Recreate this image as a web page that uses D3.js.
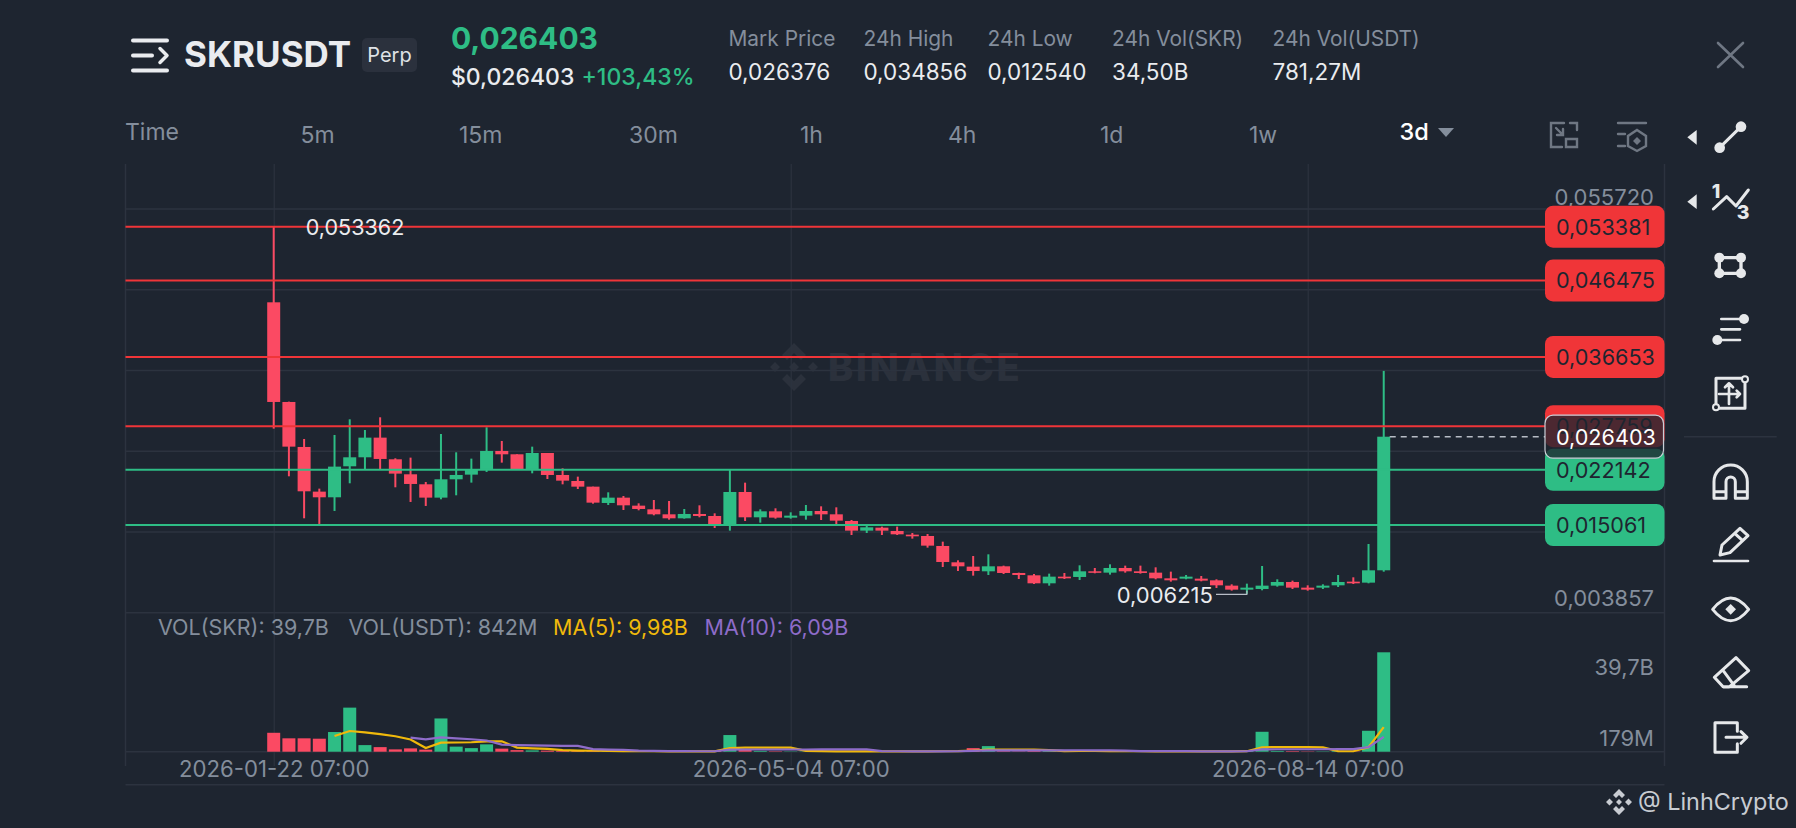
<!DOCTYPE html>
<html><head><meta charset="utf-8">
<script src="https://cdn.jsdelivr.net/npm/d3@7"></script>
<style>
html,body{margin:0;padding:0;background:#1e2530;overflow:hidden}
svg{display:block}
text{font-family:Inter,"Noto Sans",sans-serif}
</style></head><body>
<svg id="c" width="1796" height="828"></svg>
<script>
// ---- data ----
const firstDate = "2026-01-22T07:00:00Z";
const opens = [.043668,.030865,.025084,.019346,.018619,.022601,.023757,.026283,.0235,.021573,.020289,.018576,.020931,.02153,.02213,.024571,.024142,.022127,.024311,.021485,.020714,.019986,.017888,.018573,.017545,.017074,.016432,.015918,.016475,.016218,.015019,.019301,.016047,.016817,.016004,.016261,.01686,.016432,.015576,.014334,.014719,.014291,.01382,.013648,.012364,.010266,.009709,.00911,.009752,.008895,.008596,.007568,.008424,.008382,.00911,.008938,.009538,.00911,.008938,.00821,.008167,.008167,.007953,.007268,.006754,.00684,.007268,.007739,.007011,.007011,.007311,.007782,.007654,.009241];
const highs = [.053362,.030908,.026112,.019732,.026626,.028638,.027268,.028895,.023628,.023714,.020588,.026754,.024399,.023586,.027611,.025855,.024142,.025124,.024311,.022341,.021271,.019986,.019258,.018787,.017845,.018273,.018145,.017117,.017588,.01656,.022127,.0205,.017074,.017203,.016689,.017631,.01746,.017331,.015704,.015019,.014848,.014848,.014034,.013905,.01292,.010523,.011079,.011293,.009837,.008938,.008767,.00881,.008895,.00988,.009538,.010009,.009837,.009837,.009623,.009067,.008638,.00851,.008082,.00744,.007525,.009795,.008082,.007911,.007311,.00744,.008638,.008339,.012621,.034856];
const lows = [.027439,.021316,.015921,.015193,.016863,.020417,.022215,.022215,.019903,.018019,.017505,.018362,.018875,.020503,.021873,.023072,.022215,.021699,.020971,.020286,.019686,.017802,.017631,.016989,.016946,.016303,.015747,.015875,.016047,.014676,.014334,.015576,.015361,.015875,.015875,.015747,.015704,.015105,.013777,.014034,.013777,.013777,.013306,.01215,.009666,.009152,.008553,.008638,.008767,.008125,.007482,.007268,.008125,.007996,.008853,.008681,.008938,.00881,.008082,.007782,.008082,.007825,.006969,.006626,.006215,.006669,.00714,.00684,.006626,.00684,.007097,.007482,.007568,.009061];
const closes = [.030865,.025127,.019389,.018619,.022558,.023757,.026283,.023543,.021659,.020331,.018576,.020931,.021487,.02213,.024571,.024142,.022215,.024311,.021485,.020757,.019986,.017931,.018573,.017588,.017117,.016432,.015918,.016475,.016218,.015062,.019301,.016047,.016817,.016004,.016261,.01686,.016432,.015618,.014334,.014762,.014334,.013863,.013606,.012407,.010308,.009752,.009152,.009752,.008895,.008638,.007568,.008424,.00821,.00911,.008938,.009538,.00911,.008895,.00821,.007953,.008424,.007911,.007311,.006754,.007011,.007268,.007739,.007011,.006754,.007268,.007739,.007568,.009238,.026403];
const volumes = [7.7,5.5,5.5,5.35,8,17.7,2.8,2,1.1,1.5,1,13.4,2.2,1.6,3.1,1.4,.8,.7,.6,.5,.45,.5,.4,.35,.3,.3,.3,.25,.25,.4,6.8,1.1,.5,.35,.3,.3,.3,.35,.4,.3,.3,.3,.25,.4,.5,.4,1.6,2.4,.4,.3,.5,.6,.3,.6,.3,.3,.3,.3,.4,.3,.25,.25,.35,.3,.7,8.1,.5,.4,.3,.3,.5,.3,8.5,39.7];
const ma5 = [null,null,null,null,6.41,8.41,7.87,7.17,6.32,5.02,1.68,3.8,3.84,3.94,4.26,4.34,1.82,1.52,1.32,.8,.61,.55,.49,.44,.4,.37,.33,.3,.28,.3,1.6,1.76,1.81,1.83,1.81,.51,.37,.32,.33,.33,.33,.33,.31,.31,.35,.37,.63,1.06,1.06,1.02,1.04,.84,.42,.46,.46,.42,.36,.36,.32,.32,.31,.3,.31,.29,.37,1.94,1.99,2,2,1.92,.4,.36,1.98,9.98];
const ma10 = [null,null,null,null,null,null,null,null,null,5.76,5.05,5.84,5.5,5.13,4.64,3.01,2.81,2.68,2.63,2.53,2.48,1.19,1,.88,.6,.49,.44,.4,.36,.35,.99,1.05,1.06,1.06,1.06,1.06,1.07,1.07,1.08,1.07,.42,.35,.32,.32,.34,.35,.48,.69,.69,.69,.71,.74,.74,.76,.74,.73,.6,.39,.39,.39,.37,.33,.34,.31,.35,1.13,1.15,1.16,1.15,1.15,1.17,1.18,1.99,6.09];
const priceTicks = [.05572,.04535,.034973,.024600,.014230,.003857];
const resistance = [.053381,.046475,.036653,.027759];
const support = [.022142,.015061];
const lastPrice = .026403;
const highMark = .053362, lowMark = .006215;
const dateTicks = ["2026-01-22T07:00:00Z","2026-05-04T07:00:00Z","2026-08-14T07:00:00Z"];
const dateLabels = ["2026-01-22 07:00","2026-05-04 07:00","2026-08-14 07:00"];
const volTicks = [[39.7,"39,7B"],[.179,"179M"]];
const intervals = [["5m",300.5],["15m",459],["30m",629],["1h",800],["4h",948],["1d",1100],["1w",1249]];
const stats = [["Mark Price","0,026376",728.5],["24h High","0,034856",863.5],["24h Low","0,012540",987.5],["24h Vol(SKR)","34,50B",1112],["24h Vol(USDT)","781,27M",1272.5]];
const legend = [["VOL(SKR): 39,7B",158,"#848e9c"],["VOL(USDT): 842M",348.5,"#848e9c"],["MA(5): 9,98B",553,"#f0b90b"],["MA(10): 6,09B",704.5,"#8e6cc9"]];

// ---- colours ----
const BG="#1e2530",UP="#2ebd85",DOWN="#fb4a63",LINE_RED="#f03538",GRID="#2c333f",GRAY="#848e9c",WHITE="#eaecef",ICON="#e6e8ea";

const svg=d3.select("#c");
const parse=d3.utcParse("%Y-%m-%dT%H:%M:%SZ");
const dates=opens.map((_,i)=>d3.utcDay.offset(parse(firstDate),3*i));
const L=125.5,R=1664.5;
const x=d3.scaleUtc().domain([parse(dateTicks[0]),parse(dateTicks[2])]).range([273.7,1307.7]);
const y=d3.scaleLinear().domain([.003857,.05572]).range([612.2,208.5]);
const yv=d3.scaleLinear().domain([.179,39.7]).range([751.7,652.3]);
const fmt=v=>d3.format(".6f")(v).replace(".",",");
const T=(s,px,py,size,fill,o={})=>svg.append("text").attr("x",px).attr("y",py).attr("font-size",size).attr("fill",fill)
   .attr("font-weight",o.w||400).attr("text-anchor",o.a||"start").text(s);

// watermark
const wm=svg.append("g").attr("opacity",.055);
wm.append("path").attr("fill","#fff").attr("transform","translate(794,367)")
  .attr("d","M0-24 12-12 7-7 0-14-7-7-12-12ZM-24 0-19-5-14 0-19 5ZM24 0 19-5 14 0 19 5ZM0 24 12 12 7 7 0 14-7 7-12 12ZM0-5 5 0 0 5-5 0Z");
wm.append("text").attr("x",828).attr("y",381).attr("font-size",38).attr("font-weight",800).attr("fill","#fff").attr("letter-spacing",2.8).text("BINANCE");

// frame and grid through axes; only the top and bottom price labels stay visible, as in the reference
const gy=svg.append("g").attr("transform",`translate(${R},0)`)
  .call(d3.axisLeft(y).tickValues(priceTicks).tickSize(R-L).tickFormat(fmt));
gy.select(".domain").remove();
gy.selectAll("line").attr("stroke",GRID).attr("stroke-width",1.5);
gy.selectAll("text").filter(d=>d!==priceTicks[0]&&d!==priceTicks[5]).remove();
gy.selectAll("text").attr("x",-10.5).attr("dy",d=>d===priceTicks[0]?-4.5:-6.5).attr("text-anchor","end").attr("font-size",22).attr("fill",GRAY).attr("font-family","Inter");

const gx=svg.append("g").attr("transform","translate(0,766)")
  .call(d3.axisBottom(x).tickValues(dateTicks.map(parse)).tickSize(-602).tickFormat((d,i)=>dateLabels[i]));
gx.select(".domain").remove();
gx.selectAll("line").attr("stroke",GRID).attr("stroke-width",1.2);
gx.selectAll("text").attr("y",10.7).attr("dy",0).attr("font-size",22.2).attr("fill",GRAY).attr("font-family","Inter");

[[L,164,L,766],[R,164,R,766]].forEach(a=>svg.append("line").attr("x1",a[0]).attr("y1",a[1]).attr("x2",a[2]).attr("y2",a[3]).attr("stroke",GRID).attr("stroke-width",1.5));
[751.7,784.7].forEach(v=>svg.append("line").attr("x1",L).attr("x2",R).attr("y1",v).attr("y2",v).attr("stroke",GRID).attr("stroke-width",1.5));

// candles
const idx=d3.range(opens.length);
const col=i=>closes[i]>=opens[i]?UP:DOWN;
const W=13;
svg.append("g").selectAll("line").data(idx).join("line")
  .attr("x1",i=>x(dates[i])).attr("x2",i=>x(dates[i])).attr("y1",i=>y(highs[i])).attr("y2",i=>y(lows[i]))
  .attr("stroke",col).attr("stroke-width",2);
svg.append("g").selectAll("rect").data(idx).join("rect")
  .attr("x",i=>x(dates[i])-W/2).attr("width",W)
  .attr("y",i=>y(Math.max(opens[i],closes[i])))
  .attr("height",i=>Math.max(1.5,Math.abs(y(opens[i])-y(closes[i]))))
  .attr("fill",col);

// volume
svg.append("g").selectAll("rect").data(idx).join("rect")
  .attr("x",i=>x(dates[i])-W/2).attr("width",W)
  .attr("y",i=>yv(volumes[i])).attr("height",i=>yv(.179)-yv(volumes[i])).attr("fill",col);
const vl=d3.line().defined(d=>d[1]!==null).x(d=>x(d[0])).y(d=>yv(d[1]));
svg.append("path").attr("d",vl(dates.map((d,i)=>[d,ma5[i]]))).attr("fill","none").attr("stroke","#f0b90b").attr("stroke-width",2.2);
svg.append("path").attr("d",vl(dates.map((d,i)=>[d,ma10[i]]))).attr("fill","none").attr("stroke","#8e6cc9").attr("stroke-width",2.2);

// horizontal levels
const levels=resistance.map(v=>[v,LINE_RED]).concat(support.map(v=>[v,UP]));
svg.append("g").selectAll("line").data(levels).join("line")
  .attr("x1",L).attr("x2",1545).attr("y1",d=>y(d[0])).attr("y2",d=>y(d[0])).attr("stroke",d=>d[1]).attr("stroke-width",2);
svg.append("line").attr("x1",x(dates[73])+6).attr("x2",1545).attr("y1",y(lastPrice)).attr("y2",y(lastPrice))
  .attr("stroke","#b7bdc6").attr("stroke-width",1.5).attr("stroke-dasharray","6 5");

// high / low marks
T(fmt(highMark),305.7,235,21.6,WHITE);
T(fmt(lowMark),1116.7,602.5,22,WHITE);
svg.append("path").attr("d",`M1216 ${y(lowMark)+.5}H${x(dates[64])}V${y(lowMark)-3}`).attr("fill","none").attr("stroke","#b7bdc6").attr("stroke-width",1.2);

// tags
const tag=svg.append("g");
levels.forEach(d=>{
  const c=y(d[0]);
  tag.append("rect").attr("x",1545).attr("y",c-21).attr("width",119.5).attr("height",42).attr("rx",8).attr("fill",d[1]);
  tag.append("text").attr("x",1556).attr("y",c+8).attr("font-size",21.6).attr("fill",BG).text(fmt(d[0]));
});
const c0=y(lastPrice);
tag.append("rect").attr("x",1545).attr("y",c0-21.5).attr("width",118.5).attr("height",43).attr("rx",8)
  .attr("fill",BG).attr("fill-opacity",.78).attr("stroke","#c9ced6").attr("stroke-width",1.2);
tag.append("text").attr("x",1556).attr("y",c0+8).attr("font-size",21.6).attr("fill","#fff").text(fmt(lastPrice));

// vol legend & axis
legend.forEach(d=>T(d[0],d[1],635,21.5,d[2]));
volTicks.forEach((d,i)=>T(d[1],1654,i?746:675,22,GRAY,{a:"end"}));

// header
const I=(d,o={})=>svg.append("path").attr("d",d).attr("fill",o.fill||"none").attr("stroke",o.stroke||"none").attr("stroke-width",o.sw||0)
  .attr("stroke-linecap","round").attr("stroke-linejoin",o.j||"round").attr("transform",o.t||null);
I("M133 40.5H167M133 55.5H152M133 70.5H167",{stroke:WHITE,sw:4});
I("M160 48.5L167 55.5L160 62.5",{stroke:WHITE,sw:3.5});
T("SKRUSDT",184,67,35,WHITE,{w:700});
svg.append("rect").attr("x",362).attr("y",38).attr("width",55).attr("height",34).attr("rx",5).attr("fill","#2b313d");
T("Perp",389.5,62,20,"#dfe2e6",{a:"middle"});
T("0,026403",451,49,30,UP,{w:700});
T("$0,026403",451,85,23,WHITE,{w:500});
T("+103,43%",581.5,85,23,UP,{w:500});
stats.forEach(s=>{T(s[0],s[2],46,20.9,GRAY);T(s[1],s[2],79.5,22.5,WHITE);});
I("M1718 43L1743 67M1743 43L1718 67",{stroke:"#6f7783",sw:2.6});

T("Time",125,140,23,GRAY);
intervals.forEach(d=>T(d[0],d[1],143,23,GRAY));
T("3d",1399.5,140,23.5,"#fff",{w:500});
I("M1438 128H1454L1446 137Z",{fill:"#848e9c"});
// tool icons top
const g2={stroke:"#6f7783",sw:2.4,j:"miter"};
I("M1564 123H1551V147H1562M1577 130V123H1570",g2);
I("M1566 139H1577V147H1566Z",g2);
I("M1556 128L1563 135M1563 129V135H1557",g2);
I("M1618 123H1646M1618 134H1625M1618 146H1625",g2);
I("M1637 130L1646 136V146L1637 151L1628 146V136Z",g2);
I("M1637 137L1641 141L1637 145L1633 141Z",{fill:"#6f7783"});

// sidebar icons (drawn in 3x coordinates)
const s1="translate(1660,100) scale(.3333)", s2="translate(1660,420) scale(.3333)";
const S=(d,sw=9,t=s1)=>I(d,{stroke:ICON,sw,t});
const F=(d,t=s1)=>I(d,{fill:ICON,t});
const dot=(cx,cy,r,t=s1)=>svg.append("circle").attr("cx",cx).attr("cy",cy).attr("r",r).attr("fill",ICON).attr("transform",t);
F("M82 112L110 90V134Z");F("M82 305L110 283V327Z");
S("M179 143L243 80",9);dot(179,143,16);dot(243,80,16);
S("M160 327L200 290L228 318L265 270",9);
svg.append("text").attr("x",155).attr("y",294).attr("font-size",58).attr("font-weight",800).attr("fill",ICON).attr("transform",s1).text("1");
svg.append("text").attr("x",230).attr("y",357).attr("font-size",58).attr("font-weight",800).attr("fill",ICON).attr("transform",s1).text("3");
S("M178 473H243V520H178Z",10);[[178,473],[243,473],[178,520],[243,520]].forEach(p=>dot(p[0],p[1],15));
S("M184 657H240M184 688H240M186 720H240",8);dot(252,657,15);dot(172,720,15);
S("M255 838V925H168M168 922V835H255",9);
svg.append("circle").attr("cx",255).attr("cy",838).attr("r",9).attr("fill",BG).attr("stroke",ICON).attr("stroke-width",6).attr("transform",s1);
svg.append("circle").attr("cx",168).attr("cy",922).attr("r",9).attr("fill",BG).attr("stroke",ICON).attr("stroke-width",6).attr("transform",s1);
S("M207 850V912M177 882H240M195 862L207 850L219 862M230 872L240 882L230 892",8);
svg.append("line").attr("x1",1684).attr("x2",1776.7).attr("y1",436.7).attr("y2",436.7).attr("stroke",GRID).attr("stroke-width",1.5);
S("M162 235V185A50 50 0 0 1 262 185V235H226V185A14 14 0 0 0 198 185V235ZM162 215H198M226 215H262",9,s2);
S("M162 423H264",8,s2);S("M180 405L186 375L240 325L264 347L210 398ZM224 340L248 362",9,s2);
S("M158 568Q212 500 266 568Q212 636 158 568Z",9,s2);F("M212 552L228 568L212 584L196 568Z",s2);
S("M163 772L228 713L266 752L208 801H190ZM188 750L225 800M190 800H260",9,s2);
S("M232 934V908H165V997H232V971",9,s2);S("M198 952H260M243 935L261 952L243 970",9,s2);

// credit
I("M0-13 6-7 3-4 0-7-3-4-6-7ZM-13 0-9.5-3.5-6 0-9.5 3.5ZM13 0 9.5-3.5 6 0 9.5 3.5ZM0 13 6 7 3 4 0 7-3 4-6 7ZM0-3 3 0 0 3-3 0Z",{fill:"#c8ccd2",t:"translate(1619,802)"});
T("@ LinhCrypto",1638,810,23.4,"#c8ccd2");
</script>
</body></html>
